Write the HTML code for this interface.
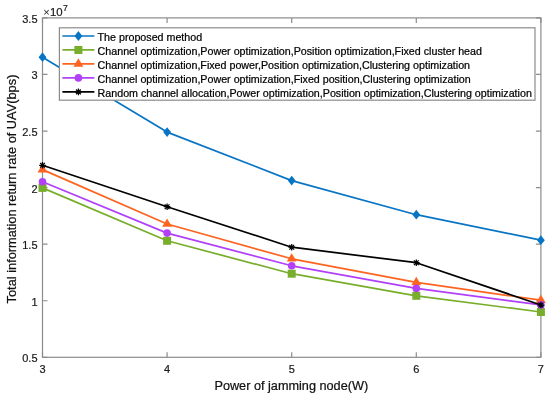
<!DOCTYPE html>
<html><head><meta charset="utf-8"><title>plot</title>
<style>html,body{margin:0;padding:0;background:#fff;width:550px;height:399px;overflow:hidden}</style>
</head><body>
<svg width="550" height="399" viewBox="0 0 550 399" style="display:block">
<rect width="550" height="399" fill="#fff"/>
<g stroke="#8c8c8c" stroke-width="1.2" fill="none">
<rect x="42.5" y="17.9" width="498.40" height="339.40"/>
<path d="M42.50,357.3V352.3M42.50,17.9V22.9"/>
<path d="M167.10,357.3V352.3M167.10,17.9V22.9"/>
<path d="M291.70,357.3V352.3M291.70,17.9V22.9"/>
<path d="M416.30,357.3V352.3M416.30,17.9V22.9"/>
<path d="M540.90,357.3V352.3M540.90,17.9V22.9"/>
<path d="M42.5,357.30H47.5M540.9,357.30H535.9"/>
<path d="M42.5,300.73H47.5M540.9,300.73H535.9"/>
<path d="M42.5,244.17H47.5M540.9,244.17H535.9"/>
<path d="M42.5,187.60H47.5M540.9,187.60H535.9"/>
<path d="M42.5,131.03H47.5M540.9,131.03H535.9"/>
<path d="M42.5,74.47H47.5M540.9,74.47H535.9"/>
<path d="M42.5,17.90H47.5M540.9,17.90H535.9"/>
</g>
<g font-family='"Liberation Sans", Arial, sans-serif' font-size="11" fill="#1a1a1a" stroke="#1a1a1a" stroke-width="0.2">
<text x="37.5" y="362.30" text-anchor="end">0.5</text>
<text x="37.5" y="305.73" text-anchor="end">1</text>
<text x="37.5" y="249.17" text-anchor="end">1.5</text>
<text x="37.5" y="192.60" text-anchor="end">2</text>
<text x="37.5" y="136.03" text-anchor="end">2.5</text>
<text x="37.5" y="79.47" text-anchor="end">3</text>
<text x="37.5" y="22.90" text-anchor="end">3.5</text>
<text x="42.50" y="373" text-anchor="middle">3</text>
<text x="167.10" y="373" text-anchor="middle">4</text>
<text x="291.70" y="373" text-anchor="middle">5</text>
<text x="416.30" y="373" text-anchor="middle">6</text>
<text x="540.90" y="373" text-anchor="middle">7</text>
<text x="43.2" y="15.6" stroke-width="0">×</text><text x="50" y="15.9" font-size="11.4">10</text><text x="62.9" y="10.6" font-size="8.6">7</text>
</g>
<polyline points="42.50,57.20 167.10,132.10 291.70,180.60 416.30,214.70 540.90,240.20" fill="none" stroke="#0874C4" stroke-width="1.7" stroke-linejoin="round"/>
<polygon points="42.50,52.30 46.40,57.20 42.50,62.10 38.60,57.20" fill="#0874C4"/>
<polygon points="167.10,127.20 171.00,132.10 167.10,137.00 163.20,132.10" fill="#0874C4"/>
<polygon points="291.70,175.70 295.60,180.60 291.70,185.50 287.80,180.60" fill="#0874C4"/>
<polygon points="416.30,209.80 420.20,214.70 416.30,219.60 412.40,214.70" fill="#0874C4"/>
<polygon points="540.90,235.30 544.80,240.20 540.90,245.10 537.00,240.20" fill="#0874C4"/>
<polyline points="42.50,187.90 167.10,240.80 291.70,273.70 416.30,295.80 540.90,312.00" fill="none" stroke="#78AE2C" stroke-width="1.7" stroke-linejoin="round"/>
<rect x="38.50" y="183.90" width="8.00" height="8.00" fill="#78AE2C"/>
<rect x="163.10" y="236.80" width="8.00" height="8.00" fill="#78AE2C"/>
<rect x="287.70" y="269.70" width="8.00" height="8.00" fill="#78AE2C"/>
<rect x="412.30" y="291.80" width="8.00" height="8.00" fill="#78AE2C"/>
<rect x="536.90" y="308.00" width="8.00" height="8.00" fill="#78AE2C"/>
<polyline points="42.50,169.60 167.10,224.00 291.70,258.80 416.30,282.40 540.90,300.20" fill="none" stroke="#FC6420" stroke-width="1.7" stroke-linejoin="round"/>
<polygon points="42.50,164.00 47.40,172.40 37.60,172.40" fill="#FC6420"/>
<polygon points="167.10,218.40 172.00,226.80 162.20,226.80" fill="#FC6420"/>
<polygon points="291.70,253.20 296.60,261.60 286.80,261.60" fill="#FC6420"/>
<polygon points="416.30,276.80 421.20,285.20 411.40,285.20" fill="#FC6420"/>
<polygon points="540.90,294.60 545.80,303.00 536.00,303.00" fill="#FC6420"/>
<polyline points="42.50,181.70 167.10,233.10 291.70,265.80 416.30,288.40 540.90,304.90" fill="none" stroke="#B240F8" stroke-width="1.7" stroke-linejoin="round"/>
<circle cx="42.50" cy="181.70" r="3.8" fill="#B240F8"/>
<circle cx="167.10" cy="233.10" r="3.8" fill="#B240F8"/>
<circle cx="291.70" cy="265.80" r="3.8" fill="#B240F8"/>
<circle cx="416.30" cy="288.40" r="3.8" fill="#B240F8"/>
<circle cx="540.90" cy="304.90" r="3.8" fill="#B240F8"/>
<polyline points="42.50,165.30 167.10,206.70 291.70,247.20 416.30,262.70 540.90,305.00" fill="none" stroke="#000000" stroke-width="1.7" stroke-linejoin="round"/>
<path d="M39.20,165.30H45.80M42.50,162.00V168.60M40.12,162.92L44.88,167.68M40.12,167.68L44.88,162.92" stroke="#000000" stroke-width="1.25" fill="none"/>
<path d="M163.80,206.70H170.40M167.10,203.40V210.00M164.72,204.32L169.48,209.08M164.72,209.08L169.48,204.32" stroke="#000000" stroke-width="1.25" fill="none"/>
<path d="M288.40,247.20H295.00M291.70,243.90V250.50M289.32,244.82L294.08,249.58M289.32,249.58L294.08,244.82" stroke="#000000" stroke-width="1.25" fill="none"/>
<path d="M413.00,262.70H419.60M416.30,259.40V266.00M413.92,260.32L418.68,265.08M413.92,265.08L418.68,260.32" stroke="#000000" stroke-width="1.25" fill="none"/>
<path d="M537.60,305.00H544.20M540.90,301.70V308.30M538.52,302.62L543.28,307.38M538.52,307.38L543.28,302.62" stroke="#000000" stroke-width="1.25" fill="none"/>
<rect x="59.4" y="27.8" width="475.6" height="72.4" fill="#fff" stroke="#8c8c8c" stroke-width="1.2"/>
<path d="M62.4,36.00H94.4" stroke="#0874C4" stroke-width="1.7"/>
<polygon points="78.40,31.10 82.30,36.00 78.40,40.90 74.50,36.00" fill="#0874C4"/>
<text x="97.6" y="40.70" font-family='"Liberation Sans", Arial, sans-serif' font-size="10.7" fill="#000" stroke="#000" stroke-width="0.22">The proposed method</text>
<path d="M62.4,49.97H94.4" stroke="#78AE2C" stroke-width="1.7"/>
<rect x="74.40" y="45.97" width="8.00" height="8.00" fill="#78AE2C"/>
<text x="97.6" y="54.67" font-family='"Liberation Sans", Arial, sans-serif' font-size="10.7" fill="#000" stroke="#000" stroke-width="0.22">Channel optimization,Power optimization,Position optimization,Fixed cluster head</text>
<path d="M62.4,63.94H94.4" stroke="#FC6420" stroke-width="1.7"/>
<polygon points="78.40,58.34 83.30,66.74 73.50,66.74" fill="#FC6420"/>
<text x="97.6" y="68.64" font-family='"Liberation Sans", Arial, sans-serif' font-size="10.7" fill="#000" stroke="#000" stroke-width="0.22">Channel optimization,Fixed power,Position optimization,Clustering optimization</text>
<path d="M62.4,77.91H94.4" stroke="#B240F8" stroke-width="1.7"/>
<circle cx="78.40" cy="77.91" r="3.8" fill="#B240F8"/>
<text x="97.6" y="82.61" font-family='"Liberation Sans", Arial, sans-serif' font-size="10.7" fill="#000" stroke="#000" stroke-width="0.22">Channel optimization,Power optimization,Fixed position,Clustering optimization</text>
<path d="M62.4,91.88H94.4" stroke="#000000" stroke-width="1.7"/>
<path d="M75.10,91.88H81.70M78.40,88.58V95.18M76.02,89.50L80.78,94.26M76.02,94.26L80.78,89.50" stroke="#000000" stroke-width="1.25" fill="none"/>
<text x="97.6" y="96.58" font-family='"Liberation Sans", Arial, sans-serif' font-size="10.7" fill="#000" stroke="#000" stroke-width="0.22">Random channel allocation,Power optimization,Position optimization,Clustering optimization</text>
<text x="291.3" y="390" text-anchor="middle" font-family='"Liberation Sans", Arial, sans-serif' font-size="12.7" fill="#111" stroke="#111" stroke-width="0.22">Power of jamming node(W)</text>
<text transform="translate(16.2,189) rotate(-90)" text-anchor="middle" font-family='"Liberation Sans", Arial, sans-serif' font-size="12.8" fill="#111" stroke="#111" stroke-width="0.22">Total information return rate of UAV(bps)</text>
</svg>
</body></html>
